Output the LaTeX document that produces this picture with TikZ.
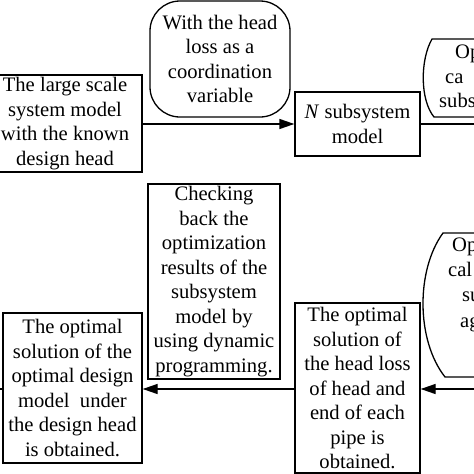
\documentclass[tikz,border=0pt]{standalone}
\usepackage{fontspec}
\setmainfont{Liberation Serif}
\usetikzlibrary{arrows.meta}
\tikzset{
  txt/.style={font=\fontsize{20.6}{24.5}\selectfont, align=center, inner sep=0pt},
  boxed/.style={txt, draw, line width=1.3pt},
  conn/.style={line width=1.3pt},
  arr/.style={conn, -{Triangle[length=15pt,width=10pt]}},
  frag/.style={font=\fontsize{20.6}{24.5}\selectfont, inner sep=0pt, anchor=base west},
  outline/.style={line width=1.3pt}
}
\begin{document}
\begin{tikzpicture}[x=1pt,y=-1pt]
\useasboundingbox (0,0) rectangle (474,474);
\clip (0,0) rectangle (474,474);
% boxes
\node[boxed, minimum width=154pt, minimum height=97pt] (large) at (65,123.5)
  {The large scale\\system model\\with the known\\design head};
\node[boxed, rounded corners=30pt, minimum width=140pt, minimum height=116pt] (coord) at (220,59)
  {With the head\\loss as a\\coordination\\variable};
\node[boxed, minimum width=125pt, minimum height=64pt] (nsub) at (357.5,124)
  {\textit{N} subsystem\\model};
\node[boxed, minimum width=132pt, minimum height=195pt] (check) at (214,281.5)
  {Checking\\back the\\optimization\\results of the\\subsystem\\model by\\using dynamic\\programming.};
\node[boxed, minimum width=139pt, minimum height=150pt] (final) at (72.5,388)
  {The optimal\\solution of the\\optimal design\\model~ under\\the design head\\is obtained.};
\node[boxed, minimum width=125pt, minimum height=170pt] (pipe) at (357.5,388)
  {The optimal\\solution of\\the head loss\\of head and\\end of each\\pipe is\\obtained.};
% partially visible shapes on the right
\draw[outline] (490,39) -- (432,39) .. controls (420,60) and (420,100) .. (434,117) -- (490,117);
\node[frag] (t1) at (455,58) {Op};
\node[frag] (t2) at (445,83) {ca};
\node[frag] (t3) at (439,107) {subs};
\draw[outline] (490,233) -- (443,233) .. controls (416,270) and (416,340) .. (445,377) -- (490,377);
\node[frag] (m1) at (452,251) {Op};
\node[frag] (m2) at (448,276) {cal};
\node[frag] (m3) at (462,301) {su};
\node[frag] (m4) at (460,327) {ag};
% connectors
\coordinate (outR1) at (490,124);
\coordinate (outR2) at (490,389);
\coordinate (outL) at (-10,389);
\draw[arr] (large.east |- 0,124) -- (nsub.west |- 0,124);
\draw[conn] (nsub.east |- 0,124) -- (outR1);
\draw[arr] (outR2) -- (pipe.east |- 0,389);
\draw[arr] (pipe.west |- 0,389) -- (final.east |- 0,389);
\draw[conn] (final.west |- 0,389) -- (outL);
\end{tikzpicture}
\end{document}
